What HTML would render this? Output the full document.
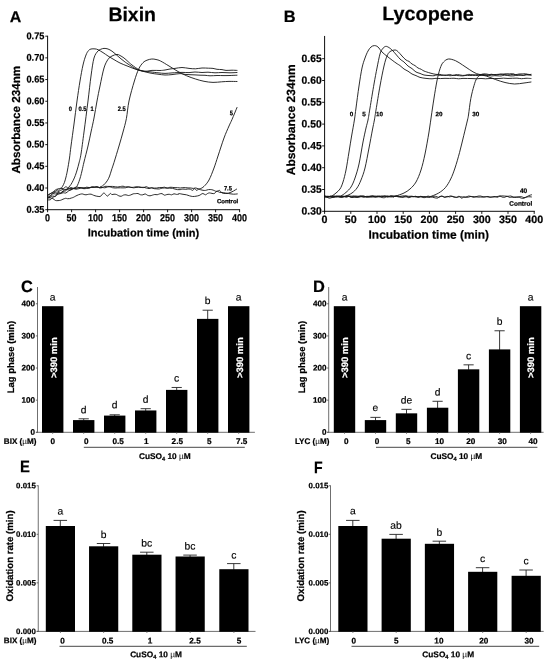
<!DOCTYPE html>
<html lang="en"><head><meta charset="utf-8"><title>Bixin and Lycopene: LDL oxidation kinetics</title>
<style>html,body{margin:0;padding:0;background:#fff}body{width:550px;height:662px;overflow:hidden}svg{display:block}text{font-family:'Liberation Sans', Arial, Helvetica, sans-serif}.h{stroke:#000;stroke-width:.22px}.l{stroke:#000;stroke-width:.14px}</style>
</head><body>
<svg width="550" height="662" viewBox="0 0 550 662" text-rendering="geometricPrecision">
<rect width="550" height="662" fill="#fff"/>
<g id="panel-a">
<line x1="47.6" y1="35.75" x2="47.6" y2="210.15" stroke="#000" stroke-width="0.95"/>
<line x1="47.15" y1="209.7" x2="240.05" y2="209.7" stroke="#000" stroke-width="0.95"/>
<line x1="45.3" y1="209.7" x2="47.6" y2="209.7" stroke="#000" stroke-width="0.9"/>
<text x="44.4" y="212.7" font-size="9.8" font-weight="bold" class="h" text-anchor="end" transform="rotate(0.06 44.4 212.7)" textLength="17.9" lengthAdjust="spacingAndGlyphs">0.35</text>
<line x1="45.3" y1="188.01" x2="47.6" y2="188.01" stroke="#000" stroke-width="0.9"/>
<text x="44.4" y="191.01" font-size="9.8" font-weight="bold" class="h" text-anchor="end" transform="rotate(0.06 44.4 191.01)" textLength="17.9" lengthAdjust="spacingAndGlyphs">0.40</text>
<line x1="45.3" y1="166.32" x2="47.6" y2="166.32" stroke="#000" stroke-width="0.9"/>
<text x="44.4" y="169.32" font-size="9.8" font-weight="bold" class="h" text-anchor="end" transform="rotate(0.06 44.4 169.32)" textLength="17.9" lengthAdjust="spacingAndGlyphs">0.45</text>
<line x1="45.3" y1="144.63" x2="47.6" y2="144.63" stroke="#000" stroke-width="0.9"/>
<text x="44.4" y="147.63" font-size="9.8" font-weight="bold" class="h" text-anchor="end" transform="rotate(0.06 44.4 147.63)" textLength="17.9" lengthAdjust="spacingAndGlyphs">0.50</text>
<line x1="45.3" y1="122.94" x2="47.6" y2="122.94" stroke="#000" stroke-width="0.9"/>
<text x="44.4" y="125.94" font-size="9.8" font-weight="bold" class="h" text-anchor="end" transform="rotate(0.06 44.4 125.94)" textLength="17.9" lengthAdjust="spacingAndGlyphs">0.55</text>
<line x1="45.3" y1="101.25" x2="47.6" y2="101.25" stroke="#000" stroke-width="0.9"/>
<text x="44.4" y="104.25" font-size="9.8" font-weight="bold" class="h" text-anchor="end" transform="rotate(0.06 44.4 104.25)" textLength="17.9" lengthAdjust="spacingAndGlyphs">0.60</text>
<line x1="45.3" y1="79.56" x2="47.6" y2="79.56" stroke="#000" stroke-width="0.9"/>
<text x="44.4" y="82.56" font-size="9.8" font-weight="bold" class="h" text-anchor="end" transform="rotate(0.06 44.4 82.56)" textLength="17.9" lengthAdjust="spacingAndGlyphs">0.65</text>
<line x1="45.3" y1="57.87" x2="47.6" y2="57.87" stroke="#000" stroke-width="0.9"/>
<text x="44.4" y="60.87" font-size="9.8" font-weight="bold" class="h" text-anchor="end" transform="rotate(0.06 44.4 60.87)" textLength="17.9" lengthAdjust="spacingAndGlyphs">0.70</text>
<line x1="45.3" y1="36.18" x2="47.6" y2="36.18" stroke="#000" stroke-width="0.9"/>
<text x="44.4" y="39.18" font-size="9.8" font-weight="bold" class="h" text-anchor="end" transform="rotate(0.06 44.4 39.18)" textLength="17.9" lengthAdjust="spacingAndGlyphs">0.75</text>
<line x1="47.6" y1="209.7" x2="47.6" y2="212.2" stroke="#000" stroke-width="0.9"/>
<text x="47.6" y="221.3" font-size="10.3" font-weight="bold" class="h" text-anchor="middle" transform="rotate(0.06 47.6 221.3)" textLength="5" lengthAdjust="spacingAndGlyphs">0</text>
<line x1="71.6" y1="209.7" x2="71.6" y2="212.2" stroke="#000" stroke-width="0.9"/>
<text x="71.6" y="221.3" font-size="10.3" font-weight="bold" class="h" text-anchor="middle" transform="rotate(0.06 71.6 221.3)" textLength="10" lengthAdjust="spacingAndGlyphs">50</text>
<line x1="95.6" y1="209.7" x2="95.6" y2="212.2" stroke="#000" stroke-width="0.9"/>
<text x="95.6" y="221.3" font-size="10.3" font-weight="bold" class="h" text-anchor="middle" transform="rotate(0.06 95.6 221.3)" textLength="15" lengthAdjust="spacingAndGlyphs">100</text>
<line x1="119.6" y1="209.7" x2="119.6" y2="212.2" stroke="#000" stroke-width="0.9"/>
<text x="119.6" y="221.3" font-size="10.3" font-weight="bold" class="h" text-anchor="middle" transform="rotate(0.06 119.6 221.3)" textLength="15" lengthAdjust="spacingAndGlyphs">150</text>
<line x1="143.6" y1="209.7" x2="143.6" y2="212.2" stroke="#000" stroke-width="0.9"/>
<text x="143.6" y="221.3" font-size="10.3" font-weight="bold" class="h" text-anchor="middle" transform="rotate(0.06 143.6 221.3)" textLength="15" lengthAdjust="spacingAndGlyphs">200</text>
<line x1="167.6" y1="209.7" x2="167.6" y2="212.2" stroke="#000" stroke-width="0.9"/>
<text x="167.6" y="221.3" font-size="10.3" font-weight="bold" class="h" text-anchor="middle" transform="rotate(0.06 167.6 221.3)" textLength="15" lengthAdjust="spacingAndGlyphs">250</text>
<line x1="191.6" y1="209.7" x2="191.6" y2="212.2" stroke="#000" stroke-width="0.9"/>
<text x="191.6" y="221.3" font-size="10.3" font-weight="bold" class="h" text-anchor="middle" transform="rotate(0.06 191.6 221.3)" textLength="15" lengthAdjust="spacingAndGlyphs">300</text>
<line x1="215.6" y1="209.7" x2="215.6" y2="212.2" stroke="#000" stroke-width="0.9"/>
<text x="215.6" y="221.3" font-size="10.3" font-weight="bold" class="h" text-anchor="middle" transform="rotate(0.06 215.6 221.3)" textLength="15" lengthAdjust="spacingAndGlyphs">350</text>
<line x1="239.6" y1="209.7" x2="239.6" y2="212.2" stroke="#000" stroke-width="0.9"/>
<text x="239.6" y="221.3" font-size="10.3" font-weight="bold" class="h" text-anchor="middle" transform="rotate(0.06 239.6 221.3)" textLength="15" lengthAdjust="spacingAndGlyphs">400</text>
<text x="143.4" y="236.6" font-size="11.2" font-weight="bold" class="h" text-anchor="middle" transform="rotate(0.06 143.4 236.6)" textLength="111.5" lengthAdjust="spacingAndGlyphs">Incubation time (min)</text>
<text x="20.4" y="119.7" font-size="11.6" font-weight="bold" class="h" text-anchor="middle" transform="rotate(-90 20.4 119.7)" textLength="107.8" lengthAdjust="spacingAndGlyphs">Absorbance 234nm</text>
<text x="132.2" y="21.3" font-size="19.9" font-weight="bold" class="h" text-anchor="middle" transform="rotate(0.06 132.2 21.3)" textLength="47.6" lengthAdjust="spacingAndGlyphs">Bixin</text>
<text x="15.6" y="22.3" font-size="16" font-weight="bold" class="h" text-anchor="middle" transform="rotate(0.06 15.6 22.3)">A</text>
<path d="M47.6 195.42C48.03 195.13 49.33 194.19 50.2 193.66C51.07 193.12 51.93 192.58 52.8 192.19C53.67 191.8 54.53 191.74 55.4 191.32C56.27 190.91 57.48 189.85 58 189.69C58.52 189.53 58.08 190.48 58.5 190.37C58.92 190.25 59.83 189.66 60.5 189C61.17 188.34 61.85 187.48 62.5 186.4C63.15 185.32 63.82 184.07 64.4 182.5C64.98 180.93 65.48 179.08 66 177C66.52 174.92 66.92 173.17 67.5 170C68.08 166.83 68.92 162 69.5 158C70.08 154 70.25 151.67 71 146C71.75 140.33 73 131.5 74 124C75 116.5 76 108.17 77 101C78 93.83 79 87 80 81C81 75 82 69.33 83 65C84 60.67 85.08 57.4 86 55C86.92 52.6 87.67 51.6 88.5 50.6C89.33 49.6 89.92 49.28 91 49C92.08 48.72 93.83 48.78 95 48.9C96.17 49.02 96.67 49.08 98 49.7C99.33 50.32 101.33 51.55 103 52.6C104.67 53.65 106.17 54.83 108 56C109.83 57.17 112 58.43 114 59.6C116 60.77 117.67 61.88 120 63C122.33 64.12 125 65.13 128 66.3C131 67.47 134.33 69.08 138 70C141.67 70.92 146.67 71.33 150 71.8C153.33 72.27 155.5 72.53 158 72.8C160.5 73.07 162.67 73.38 165 73.4C167.33 73.42 169.17 73.07 172 72.9C174.83 72.73 179.17 72.45 182 72.4C184.83 72.35 186.83 72.67 189 72.6C191.17 72.53 192.83 72.02 195 72C197.17 71.98 199.83 72.47 202 72.5C204.17 72.53 205.83 72.15 208 72.2C210.17 72.25 212.67 72.75 215 72.8C217.33 72.85 219.5 72.5 222 72.5C224.5 72.5 227.5 72.8 230 72.8C232.5 72.8 235.83 72.55 237 72.5" fill="none" stroke="#151515" stroke-width="0.9" stroke-linejoin="round" stroke-linecap="round"/>
<path d="M47.6 198.38C48.03 198.2 49.33 197.68 50.2 197.28C51.07 196.88 51.93 196.12 52.8 195.99C53.67 195.86 54.53 197.07 55.4 196.48C56.27 195.88 57.13 192.96 58 192.43C58.87 191.91 59.73 193.46 60.6 193.31C61.47 193.15 62.33 191.94 63.2 191.53C64.07 191.11 65.25 191.07 65.8 190.81C66.35 190.56 66 190.61 66.5 190.01C67 189.41 68.05 188.13 68.8 187.2C69.55 186.27 70.25 185.57 71 184.4C71.75 183.23 72.58 181.68 73.3 180.2C74.02 178.72 74.67 177.2 75.3 175.5C75.93 173.8 76.48 172.08 77.1 170C77.72 167.92 78.35 165.67 79 163C79.65 160.33 80.17 159.17 81 154C81.83 148.83 82.83 140.83 84 132C85.17 123.17 86.83 110.33 88 101C89.17 91.67 90 83.17 91 76C92 68.83 92.83 62.17 94 58C95.17 53.83 96.83 52.47 98 51C99.17 49.53 100 49.63 101 49.2C102 48.77 102.83 48.43 104 48.4C105.17 48.37 106.67 48.53 108 49C109.33 49.47 110.67 50.28 112 51.2C113.33 52.12 114.67 53.37 116 54.5C117.33 55.63 118.67 56.88 120 58C121.33 59.12 122.67 60.2 124 61.2C125.33 62.2 126 62.7 128 64C130 65.3 133.33 67.77 136 69C138.67 70.23 141.33 71.17 144 71.4C146.67 71.63 149.33 70.55 152 70.4C154.67 70.25 157.83 70.57 160 70.5C162.17 70.43 163.33 70.25 165 70C166.67 69.75 168.33 69.27 170 69C171.67 68.73 173 68.65 175 68.4C177 68.15 179.67 67.5 182 67.5C184.33 67.5 186.75 68.18 189 68.4C191.25 68.62 193.33 68.87 195.5 68.8C197.67 68.73 199.83 68.1 202 68C204.17 67.9 206.67 68.13 208.5 68.2C210.33 68.27 211.58 68.22 213 68.4C214.42 68.58 215.5 69.1 217 69.3C218.5 69.5 220.5 69.42 222 69.6C223.5 69.78 224.33 70.3 226 70.4C227.67 70.5 230.17 70.2 232 70.2C233.83 70.2 236.17 70.37 237 70.4" fill="none" stroke="#151515" stroke-width="0.9" stroke-linejoin="round" stroke-linecap="round"/>
<path d="M47.6 196.27C48.03 196.22 49.33 196.46 50.2 195.98C51.07 195.49 51.93 193.97 52.8 193.37C53.67 192.76 54.53 192.57 55.4 192.33C56.27 192.08 57.13 192.23 58 191.91C58.87 191.58 59.73 190.81 60.6 190.4C61.47 189.98 62.33 189.57 63.2 189.4C64.07 189.24 64.93 189.53 65.8 189.41C66.67 189.3 67.53 189.02 68.4 188.71C69.27 188.4 70.15 187.6 71 187.56C71.85 187.51 72.7 188.4 73.5 188.44C74.3 188.48 75.13 188.34 75.8 187.8C76.47 187.26 76.97 186.25 77.5 185.2C78.03 184.15 78.48 182.95 79 181.5C79.52 180.05 80.07 178.42 80.6 176.5C81.13 174.58 81.63 172.42 82.2 170C82.77 167.58 83.03 166 84 162C84.97 158 86.83 151 88 146C89.17 141 90 136.67 91 132C92 127.33 93 123.17 94 118C95 112.83 96 106.33 97 101C98 95.67 98.83 91.5 100 86C101.17 80.5 102.67 72.43 104 68C105.33 63.57 106.67 61.4 108 59.4C109.33 57.4 110.5 56.83 112 56C113.5 55.17 115.67 54.48 117 54.4C118.33 54.32 118.83 54.9 120 55.5C121.17 56.1 122.67 57 124 58C125.33 59 126.67 60.33 128 61.5C129.33 62.67 130 63.55 132 65C134 66.45 137 68.87 140 70.2C143 71.53 147 72.33 150 73C153 73.67 155.5 73.87 158 74.2C160.5 74.53 162.67 74.93 165 75C167.33 75.07 169.5 74.83 172 74.6C174.5 74.37 177.83 73.63 180 73.6C182.17 73.57 183.33 74.22 185 74.4C186.67 74.58 188.33 74.62 190 74.7C191.67 74.78 193.33 74.82 195 74.9C196.67 74.98 198.33 75.13 200 75.2C201.67 75.27 203.33 75.2 205 75.3C206.67 75.4 208 75.77 210 75.8C212 75.83 214.67 75.53 217 75.5C219.33 75.47 221.83 75.6 224 75.6C226.17 75.6 227.83 75.57 230 75.5C232.17 75.43 235.83 75.25 237 75.2" fill="none" stroke="#151515" stroke-width="0.9" stroke-linejoin="round" stroke-linecap="round"/>
<path d="M47.6 199.73C48.03 199.75 49.33 200.23 50.2 199.83C51.07 199.43 51.93 197.97 52.8 197.33C53.67 196.68 54.53 196.45 55.4 195.94C56.27 195.43 57.13 194.67 58 194.27C58.87 193.87 59.73 193.82 60.6 193.57C61.47 193.31 62.33 192.83 63.2 192.74C64.07 192.66 64.93 193.32 65.8 193.04C66.67 192.76 67.53 191.64 68.4 191.07C69.27 190.49 70.13 189.98 71 189.59C71.87 189.19 72.73 188.77 73.6 188.7C74.47 188.62 75.33 189.13 76.2 189.13C77.07 189.12 77.93 188.88 78.8 188.67C79.67 188.46 80.53 187.98 81.4 187.86C82.27 187.75 83.13 188.09 84 187.98C84.87 187.87 85.73 187.27 86.6 187.2C87.47 187.13 88.33 187.54 89.2 187.56C90.07 187.58 90.93 187.4 91.8 187.34C92.67 187.28 93.53 187.27 94.4 187.22C95.27 187.17 96.13 186.98 97 187.02C97.87 187.05 99.1 187.43 99.6 187.44C100.1 187.44 99.52 187.28 100 187.02C100.48 186.77 101.67 186.47 102.5 185.9C103.33 185.33 104.15 184.55 105 183.6C105.85 182.65 106.83 181.47 107.6 180.2C108.37 178.93 108.95 177.7 109.6 176C110.25 174.3 110.77 172.25 111.5 170C112.23 167.75 112.75 166.5 114 162.5C115.25 158.5 117.5 151.08 119 146C120.5 140.92 121.77 136.58 123 132C124.23 127.42 125.4 123.67 126.4 118.5C127.4 113.33 127.67 107.25 129 101C130.33 94.75 132.78 86.33 134.4 81C136.02 75.67 137.27 72.05 138.7 69C140.13 65.95 141.62 64.17 143 62.7C144.38 61.23 145.53 60.82 147 60.2C148.47 59.58 150.3 59.12 151.8 59C153.3 58.88 154.55 59.17 156 59.5C157.45 59.83 158.33 59.92 160.5 61C162.67 62.08 166.08 64.25 169 66C171.92 67.75 175.05 69.87 178 71.5C180.95 73.13 183.78 74.55 186.7 75.8C189.62 77.05 192.62 78.08 195.5 79C198.38 79.92 201.08 80.73 204 81.3C206.92 81.87 210.07 82.32 213 82.4C215.93 82.48 218.93 81.97 221.6 81.8C224.27 81.63 226.43 81.45 229 81.4C231.57 81.35 235.67 81.48 237 81.5" fill="none" stroke="#151515" stroke-width="0.9" stroke-linejoin="round" stroke-linecap="round"/>
<path d="M47.6 195.25C48.03 195.01 49.33 194.25 50.2 193.81C51.07 193.37 51.93 193.26 52.8 192.6C53.67 191.94 54.53 190.47 55.4 189.87C56.27 189.26 57.13 189.24 58 188.97C58.87 188.71 59.73 188.34 60.6 188.28C61.47 188.22 62.33 188.85 63.2 188.61C64.07 188.36 64.93 186.86 65.8 186.8C66.67 186.74 67.53 187.95 68.4 188.26C69.27 188.57 70.13 188.66 71 188.64C71.87 188.63 72.73 188.44 73.6 188.17C74.47 187.91 75.33 187.14 76.2 187.04C77.07 186.93 77.93 187.45 78.8 187.56C79.67 187.67 80.53 187.59 81.4 187.68C82.27 187.77 83.13 188.07 84 188.1C84.87 188.14 85.73 187.95 86.6 187.91C87.47 187.87 88.33 188.04 89.2 187.87C90.07 187.7 90.93 187.04 91.8 186.89C92.67 186.75 93.53 187 94.4 187C95.27 186.99 96.13 186.76 97 186.86C97.87 186.96 98.73 187.47 99.6 187.6C100.47 187.74 101.33 187.87 102.2 187.67C103.07 187.48 103.93 186.63 104.8 186.42C105.67 186.21 106.53 186.41 107.4 186.42C108.27 186.43 109.13 186.46 110 186.46C110.87 186.46 111.73 186.37 112.6 186.42C113.47 186.48 114.33 186.7 115.2 186.8C116.07 186.89 116.93 187.04 117.8 187C118.67 186.96 119.53 186.68 120.4 186.55C121.27 186.42 122.13 186.15 123 186.21C123.87 186.26 124.73 186.77 125.6 186.87C126.47 186.98 127.33 186.79 128.2 186.84C129.07 186.89 129.93 187.02 130.8 187.18C131.67 187.34 132.53 187.76 133.4 187.8C134.27 187.85 135.13 187.55 136 187.45C136.87 187.36 137.73 187.24 138.6 187.23C139.47 187.23 140.33 187.38 141.2 187.43C142.07 187.48 142.93 187.69 143.8 187.56C144.67 187.43 145.53 186.6 146.4 186.67C147.27 186.74 148.13 187.78 149 187.98C149.87 188.18 150.73 187.85 151.6 187.86C152.47 187.88 153.33 188.05 154.2 188.08C155.07 188.11 155.93 188.13 156.8 188.04C157.67 187.94 158.53 187.58 159.4 187.5C160.27 187.43 161.13 187.63 162 187.58C162.87 187.54 163.73 187.13 164.6 187.21C165.47 187.3 166.33 188.07 167.2 188.08C168.07 188.1 168.93 187.42 169.8 187.3C170.67 187.18 171.53 187.32 172.4 187.38C173.27 187.44 174.13 187.62 175 187.66C175.87 187.71 176.73 187.61 177.6 187.67C178.47 187.72 179.33 188.01 180.2 188.01C181.07 188 181.93 187.71 182.8 187.65C183.67 187.59 184.53 187.59 185.4 187.64C186.27 187.69 187.13 187.89 188 187.94C188.87 187.99 189.73 187.86 190.6 187.94C191.47 188.02 192.33 188.4 193.2 188.41C194.07 188.41 195 187.91 195.8 187.97C196.6 188.03 197.3 188.61 198 188.74C198.7 188.88 199 189.19 200 188.8C201 188.41 202.5 187.87 204 186.4C205.5 184.93 207.33 183.07 209 180C210.67 176.93 212.5 172 214 168C215.5 164 216.33 161 218 156C219.67 151 222.17 143 224 138C225.83 133 227.67 129.08 229 126C230.33 122.92 230.67 122.58 232 119.5C233.33 116.42 236.17 109.5 237 107.5" fill="none" stroke="#151515" stroke-width="0.9" stroke-linejoin="round" stroke-linecap="round"/>
<path d="M47.6 197.77C48.03 197.55 49.33 197.11 50.2 196.44C51.07 195.76 51.93 194.15 52.8 193.74C53.67 193.34 54.53 194.08 55.4 194.01C56.27 193.93 57.13 193.44 58 193.27C58.87 193.1 59.73 193.36 60.6 192.97C61.47 192.57 62.33 191.48 63.2 190.91C64.07 190.34 64.93 189.73 65.8 189.55C66.67 189.37 67.53 189.77 68.4 189.83C69.27 189.9 70.13 190.18 71 189.95C71.87 189.72 72.73 188.65 73.6 188.45C74.47 188.26 75.33 188.91 76.2 188.78C77.07 188.64 77.93 187.75 78.8 187.64C79.67 187.54 80.53 187.96 81.4 188.14C82.27 188.31 83.13 188.65 84 188.7C84.87 188.74 85.73 188.52 86.6 188.41C87.47 188.3 88.33 188.23 89.2 188.04C90.07 187.85 90.93 187.36 91.8 187.24C92.67 187.12 93.53 187.36 94.4 187.31C95.27 187.26 96.13 186.84 97 186.94C97.87 187.03 98.73 187.78 99.6 187.86C100.47 187.95 101.33 187.45 102.2 187.44C103.07 187.43 103.93 187.86 104.8 187.79C105.67 187.72 106.53 187.19 107.4 187.03C108.27 186.87 109.13 186.71 110 186.82C110.87 186.93 111.73 187.52 112.6 187.72C113.47 187.92 114.33 187.98 115.2 188C116.07 188.01 116.93 187.86 117.8 187.83C118.67 187.79 119.53 187.79 120.4 187.8C121.27 187.8 122.13 187.86 123 187.86C123.87 187.86 124.73 187.92 125.6 187.78C126.47 187.63 127.33 187.04 128.2 187C129.07 186.95 129.93 187.46 130.8 187.51C131.67 187.56 132.53 187.41 133.4 187.29C134.27 187.18 135.13 186.89 136 186.81C136.87 186.74 137.73 186.77 138.6 186.85C139.47 186.94 140.33 187.22 141.2 187.3C142.07 187.38 142.93 187.19 143.8 187.31C144.67 187.44 145.53 187.85 146.4 188.05C147.27 188.25 148.13 188.56 149 188.51C149.87 188.47 150.73 187.76 151.6 187.78C152.47 187.81 153.33 188.5 154.2 188.68C155.07 188.86 155.93 188.83 156.8 188.88C157.67 188.92 158.53 189.06 159.4 188.94C160.27 188.81 161.13 188.26 162 188.1C162.87 187.95 163.73 187.98 164.6 187.99C165.47 187.99 166.33 188.08 167.2 188.11C168.07 188.14 168.93 188.14 169.8 188.17C170.67 188.2 171.53 188.15 172.4 188.3C173.27 188.45 174.13 188.86 175 189.08C175.87 189.3 176.73 189.54 177.6 189.64C178.47 189.73 179.33 189.74 180.2 189.64C181.07 189.55 181.93 189.12 182.8 189.07C183.67 189.02 184.62 189.34 185.4 189.34C186.18 189.35 186.7 189.14 187.5 189.1C188.3 189.06 189.33 188.88 190.2 189.1C191.07 189.32 191.97 190.5 192.7 190.4C193.43 190.3 193.97 188.5 194.6 188.5C195.23 188.5 195.87 190.27 196.5 190.4C197.13 190.53 197.75 189.42 198.4 189.3C199.05 189.18 199.63 189.53 200.4 189.7C201.17 189.87 202.15 190.18 203 190.3C203.85 190.42 204.58 190.52 205.5 190.4C206.42 190.28 207.45 189.72 208.5 189.6C209.55 189.48 210.82 189.53 211.8 189.7C212.78 189.87 213.55 190.28 214.4 190.6C215.25 190.92 216.05 191.63 216.9 191.6C217.75 191.57 218.65 190.18 219.5 190.4C220.35 190.62 220.95 192.38 222 192.9C223.05 193.42 224.73 193.47 225.8 193.5C226.87 193.53 227.55 193.3 228.4 193.1C229.25 192.9 230.05 192.65 230.9 192.3C231.75 191.95 232.55 191.53 233.5 191C234.45 190.47 236.08 189.42 236.6 189.1" fill="none" stroke="#151515" stroke-width="0.9" stroke-linejoin="round" stroke-linecap="round"/>
<path d="M47.6 197.4C48.03 197.48 49.32 197.7 50.2 197.9C51.08 198.1 52.02 198.17 52.9 198.6C53.78 199.03 54.65 200.17 55.5 200.5C56.35 200.83 57.17 200.63 58 200.6C58.83 200.57 59.67 200.53 60.5 200.3C61.33 200.07 62.15 199.53 63 199.2C63.85 198.87 64.85 198.38 65.6 198.3C66.35 198.22 66.85 198.65 67.5 198.7C68.15 198.75 68.85 198.72 69.5 198.6C70.15 198.48 70.77 198.2 71.4 198C72.03 197.8 72.57 197.73 73.3 197.4C74.03 197.07 74.95 196.43 75.8 196C76.65 195.57 77.65 195.1 78.4 194.8C79.15 194.5 79.67 194.35 80.3 194.2C80.93 194.05 81.57 193.85 82.2 193.9C82.83 193.95 83.47 194.35 84.1 194.5C84.73 194.65 85.27 194.83 86 194.8C86.73 194.77 87.65 194.4 88.5 194.3C89.35 194.2 90.25 194.03 91.1 194.2C91.95 194.37 92.75 194.98 93.6 195.3C94.45 195.62 95.45 195.92 96.2 196.1C96.95 196.28 97.47 196.33 98.1 196.4C98.73 196.47 99.37 196.73 100 196.5C100.63 196.27 101.27 195.6 101.9 195C102.53 194.4 103.17 192.97 103.8 192.9C104.43 192.83 105.07 194.07 105.7 194.6C106.33 195.13 106.85 196.28 107.6 196.1C108.35 195.92 109.47 193.75 110.2 193.5C110.93 193.25 111.37 194.48 112 194.6C112.63 194.72 113.27 194.22 114 194.2C114.73 194.18 115.6 194.2 116.4 194.48C117.2 194.75 118 195.53 118.8 195.83C119.6 196.13 120.4 196.41 121.2 196.28C122 196.15 122.8 195.3 123.6 195.06C124.4 194.82 125.2 194.76 126 194.83C126.8 194.91 127.6 195.5 128.4 195.52C129.2 195.54 130 195.21 130.8 194.93C131.6 194.66 132.4 194.06 133.2 193.85C134 193.63 134.8 193.68 135.6 193.63C136.4 193.58 137.2 193.34 138 193.53C138.8 193.71 139.6 194.52 140.4 194.73C141.2 194.94 142 194.94 142.8 194.8C143.6 194.67 144.4 193.83 145.2 193.92C146 194 146.8 195 147.6 195.32C148.4 195.63 149.2 195.84 150 195.82C150.8 195.79 151.6 195.37 152.4 195.15C153.2 194.93 154 194.58 154.8 194.51C155.6 194.43 156.4 194.82 157.2 194.72C158 194.62 158.8 194.08 159.6 193.89C160.4 193.71 161.2 193.4 162 193.61C162.8 193.83 163.6 195.01 164.4 195.17C165.2 195.32 166 194.7 166.8 194.55C167.6 194.4 168.4 194.22 169.2 194.27C170 194.31 170.8 194.9 171.6 194.83C172.4 194.75 173.2 193.88 174 193.81C174.8 193.73 175.6 194.33 176.4 194.38C177.2 194.44 178.37 194.27 178.8 194.14C179.23 194 178.3 193.54 179 193.57C179.7 193.6 181.77 194.09 183 194.3C184.23 194.51 185.32 194.55 186.4 194.8C187.48 195.05 188.45 195.52 189.5 195.8C190.55 196.08 191.62 196.43 192.7 196.5C193.78 196.57 194.93 196.37 196 196.2C197.07 196.03 198.27 195.8 199.1 195.5C199.93 195.2 200.37 194.73 201 194.4C201.63 194.07 202.15 193.43 202.9 193.5C203.65 193.57 204.75 194.78 205.5 194.8C206.25 194.82 206.77 193.92 207.4 193.6C208.03 193.28 208.53 192.93 209.3 192.9C210.07 192.87 211.15 193.3 212 193.4C212.85 193.5 213.58 193.9 214.4 193.5C215.22 193.1 216.05 191.2 216.9 191C217.75 190.8 218.43 192.02 219.5 192.3C220.57 192.58 221.82 192.5 223.3 192.7C224.78 192.9 226.7 193.25 228.4 193.5C230.1 193.75 232.02 194.13 233.5 194.2C234.98 194.27 236.67 193.95 237.3 193.9" fill="none" stroke="#151515" stroke-width="0.9" stroke-linejoin="round" stroke-linecap="round"/>
<text x="70.4" y="110.9" font-size="6.4" font-weight="bold" class="h" text-anchor="middle" transform="rotate(0.06 70.4 110.9)" textLength="3.2" lengthAdjust="spacingAndGlyphs">0</text>
<text x="82.4" y="110.9" font-size="6.4" font-weight="bold" class="h" text-anchor="middle" transform="rotate(0.06 82.4 110.9)" textLength="8" lengthAdjust="spacingAndGlyphs">0.5</text>
<text x="92" y="110.9" font-size="6.4" font-weight="bold" class="h" text-anchor="middle" transform="rotate(0.06 92 110.9)" textLength="3.2" lengthAdjust="spacingAndGlyphs">1</text>
<text x="121.7" y="110.9" font-size="6.4" font-weight="bold" class="h" text-anchor="middle" transform="rotate(0.06 121.7 110.9)" textLength="8" lengthAdjust="spacingAndGlyphs">2.5</text>
<text x="231.3" y="115.2" font-size="6.4" font-weight="bold" class="h" text-anchor="middle" transform="rotate(0.06 231.3 115.2)" textLength="3.2" lengthAdjust="spacingAndGlyphs">5</text>
<text x="227.9" y="190.5" font-size="6.4" font-weight="bold" class="h" text-anchor="middle" transform="rotate(0.06 227.9 190.5)" textLength="8" lengthAdjust="spacingAndGlyphs">7.5</text>
<text x="227.6" y="203.3" font-size="6" font-weight="bold" class="h" text-anchor="middle" transform="rotate(0.06 227.6 203.3)" textLength="21.4" lengthAdjust="spacingAndGlyphs">Control</text>
</g>
<g id="panel-b">
<line x1="324.6" y1="35.95" x2="324.6" y2="211.75" stroke="#000" stroke-width="0.95"/>
<line x1="324.15" y1="211.3" x2="534.85" y2="211.3" stroke="#000" stroke-width="0.95"/>
<line x1="322.1" y1="211.3" x2="324.6" y2="211.3" stroke="#000" stroke-width="0.9"/>
<text x="321.6" y="214.6" font-size="10.5" font-weight="bold" class="h" text-anchor="end" transform="rotate(0.06 321.6 214.6)" textLength="20" lengthAdjust="spacingAndGlyphs">0.30</text>
<line x1="322.1" y1="189.5" x2="324.6" y2="189.5" stroke="#000" stroke-width="0.9"/>
<text x="321.6" y="192.8" font-size="10.5" font-weight="bold" class="h" text-anchor="end" transform="rotate(0.06 321.6 192.8)" textLength="20" lengthAdjust="spacingAndGlyphs">0.35</text>
<line x1="322.1" y1="167.7" x2="324.6" y2="167.7" stroke="#000" stroke-width="0.9"/>
<text x="321.6" y="171" font-size="10.5" font-weight="bold" class="h" text-anchor="end" transform="rotate(0.06 321.6 171)" textLength="20" lengthAdjust="spacingAndGlyphs">0.40</text>
<line x1="322.1" y1="145.9" x2="324.6" y2="145.9" stroke="#000" stroke-width="0.9"/>
<text x="321.6" y="149.2" font-size="10.5" font-weight="bold" class="h" text-anchor="end" transform="rotate(0.06 321.6 149.2)" textLength="20" lengthAdjust="spacingAndGlyphs">0.45</text>
<line x1="322.1" y1="124.1" x2="324.6" y2="124.1" stroke="#000" stroke-width="0.9"/>
<text x="321.6" y="127.4" font-size="10.5" font-weight="bold" class="h" text-anchor="end" transform="rotate(0.06 321.6 127.4)" textLength="20" lengthAdjust="spacingAndGlyphs">0.50</text>
<line x1="322.1" y1="102.3" x2="324.6" y2="102.3" stroke="#000" stroke-width="0.9"/>
<text x="321.6" y="105.6" font-size="10.5" font-weight="bold" class="h" text-anchor="end" transform="rotate(0.06 321.6 105.6)" textLength="20" lengthAdjust="spacingAndGlyphs">0.55</text>
<line x1="322.1" y1="80.5" x2="324.6" y2="80.5" stroke="#000" stroke-width="0.9"/>
<text x="321.6" y="83.8" font-size="10.5" font-weight="bold" class="h" text-anchor="end" transform="rotate(0.06 321.6 83.8)" textLength="20" lengthAdjust="spacingAndGlyphs">0.60</text>
<line x1="322.1" y1="58.7" x2="324.6" y2="58.7" stroke="#000" stroke-width="0.9"/>
<text x="321.6" y="62" font-size="10.5" font-weight="bold" class="h" text-anchor="end" transform="rotate(0.06 321.6 62)" textLength="20" lengthAdjust="spacingAndGlyphs">0.65</text>
<line x1="324.6" y1="211.3" x2="324.6" y2="213.9" stroke="#000" stroke-width="0.9"/>
<text x="324.6" y="223.1" font-size="10.7" font-weight="bold" class="h" text-anchor="middle" transform="rotate(0.06 324.6 223.1)">0</text>
<line x1="350.8" y1="211.3" x2="350.8" y2="213.9" stroke="#000" stroke-width="0.9"/>
<text x="350.8" y="223.1" font-size="10.7" font-weight="bold" class="h" text-anchor="middle" transform="rotate(0.06 350.8 223.1)">50</text>
<line x1="377" y1="211.3" x2="377" y2="213.9" stroke="#000" stroke-width="0.9"/>
<text x="377" y="223.1" font-size="10.7" font-weight="bold" class="h" text-anchor="middle" transform="rotate(0.06 377 223.1)">100</text>
<line x1="403.2" y1="211.3" x2="403.2" y2="213.9" stroke="#000" stroke-width="0.9"/>
<text x="403.2" y="223.1" font-size="10.7" font-weight="bold" class="h" text-anchor="middle" transform="rotate(0.06 403.2 223.1)">150</text>
<line x1="429.4" y1="211.3" x2="429.4" y2="213.9" stroke="#000" stroke-width="0.9"/>
<text x="429.4" y="223.1" font-size="10.7" font-weight="bold" class="h" text-anchor="middle" transform="rotate(0.06 429.4 223.1)">200</text>
<line x1="455.6" y1="211.3" x2="455.6" y2="213.9" stroke="#000" stroke-width="0.9"/>
<text x="455.6" y="223.1" font-size="10.7" font-weight="bold" class="h" text-anchor="middle" transform="rotate(0.06 455.6 223.1)">250</text>
<line x1="481.8" y1="211.3" x2="481.8" y2="213.9" stroke="#000" stroke-width="0.9"/>
<text x="481.8" y="223.1" font-size="10.7" font-weight="bold" class="h" text-anchor="middle" transform="rotate(0.06 481.8 223.1)">300</text>
<line x1="508" y1="211.3" x2="508" y2="213.9" stroke="#000" stroke-width="0.9"/>
<text x="508" y="223.1" font-size="10.7" font-weight="bold" class="h" text-anchor="middle" transform="rotate(0.06 508 223.1)">350</text>
<line x1="534.2" y1="211.3" x2="534.2" y2="213.9" stroke="#000" stroke-width="0.9"/>
<text x="534.2" y="223.1" font-size="10.7" font-weight="bold" class="h" text-anchor="middle" transform="rotate(0.06 534.2 223.1)">400</text>
<text x="428.8" y="238.8" font-size="12.1" font-weight="bold" class="h" text-anchor="middle" transform="rotate(0.06 428.8 238.8)" textLength="120.5" lengthAdjust="spacingAndGlyphs">Incubation time (min)</text>
<text x="294.6" y="119.8" font-size="11.9" font-weight="bold" class="h" text-anchor="middle" transform="rotate(-90 294.6 119.8)" textLength="111" lengthAdjust="spacingAndGlyphs">Absorbance 234nm</text>
<text x="428" y="20.4" font-size="19.6" font-weight="bold" class="h" text-anchor="middle" transform="rotate(0.06 428 20.4)" textLength="91.5" lengthAdjust="spacingAndGlyphs">Lycopene</text>
<text x="289.6" y="22.1" font-size="16.4" font-weight="bold" class="h" text-anchor="middle" transform="rotate(0.06 289.6 22.1)">B</text>
<path d="M324.7 196.31C325.2 196.32 326.7 196.34 327.7 196.35C328.7 196.37 330.15 196.35 330.7 196.39C331.25 196.43 330.78 196.67 331 196.6C331.22 196.53 331.17 196.6 332 196C332.83 195.4 334.67 194.17 336 193C337.33 191.83 338.83 190.83 340 189C341.17 187.17 342 185.17 343 182C344 178.83 345 175 346 170C347 165 348.07 157.67 349 152C349.93 146.33 350.7 141.33 351.6 136C352.5 130.67 353.67 124.67 354.4 120C355.13 115.33 355.23 113.67 356 108C356.77 102.33 358 92.67 359 86C360 79.33 361 72.67 362 68C363 63.33 364 60.83 365 58C366 55.17 367 52.83 368 51C369 49.17 369.93 47.9 371 47C372.07 46.1 373.23 45.6 374.4 45.6C375.57 45.6 376.73 45.93 378 47C379.27 48.07 380.33 50.33 382 52C383.67 53.67 385.67 55.17 388 57C390.33 58.83 394 61.57 396 63C398 64.43 398.67 64.6 400 65.6C401.33 66.6 402.67 68.07 404 69C405.33 69.93 406.67 70.37 408 71.2C409.33 72.03 410.67 73.27 412 74C413.33 74.73 414.67 75.03 416 75.6C417.33 76.17 418.33 76.93 420 77.4C421.67 77.87 424 78.17 426 78.4C428 78.63 430.33 78.81 432 78.8C433.67 78.79 434.58 78.36 436 78.32C437.42 78.28 439 78.56 440.5 78.56C442 78.56 443.5 78.35 445 78.33C446.5 78.31 448 78.46 449.5 78.44C451 78.43 452.5 78.18 454 78.24C455.5 78.3 457 78.76 458.5 78.79C460 78.81 461.5 78.45 463 78.4C464.5 78.34 466 78.44 467.5 78.47C469 78.5 470.5 78.51 472 78.56C473.5 78.61 475 78.8 476.5 78.78C478 78.76 479.5 78.44 481 78.44C482.5 78.45 484 78.78 485.5 78.79C487 78.8 488.5 78.55 490 78.5C491.5 78.46 493 78.52 494.5 78.52C496 78.52 497.5 78.58 499 78.52C500.5 78.46 502 78.17 503.5 78.16C505 78.15 506.5 78.44 508 78.46C509.5 78.48 511 78.33 512.5 78.28C514 78.23 515.5 78.08 517 78.15C518.5 78.22 520 78.69 521.5 78.71C523 78.73 524.5 78.31 526 78.27C527.5 78.23 529.67 78.44 530.5 78.48C531.33 78.52 530.92 78.5 531 78.5" fill="none" stroke="#151515" stroke-width="0.9" stroke-linejoin="round" stroke-linecap="round"/>
<path d="M324.7 196.87C325.2 196.84 326.7 196.75 327.7 196.67C328.7 196.59 329.7 196.4 330.7 196.39C331.7 196.38 332.7 196.58 333.7 196.62C334.7 196.67 335.82 196.67 336.7 196.67C337.58 196.66 338.28 196.71 339 196.6C339.72 196.49 339.83 196.7 341 196C342.17 195.3 344.33 193.9 346 192.4C347.67 190.9 349.5 189.4 351 187C352.5 184.6 353.67 181.83 355 178C356.33 174.17 357.67 170 359 164C360.33 158 361.83 148 363 142C364.17 136 365.17 131.67 366 128C366.83 124.33 367.33 123.33 368 120C368.67 116.67 369 114 370 108C371 102 372.83 90.67 374 84C375.17 77.33 376 73 377 68C378 63 379.1 57.17 380 54C380.9 50.83 381.47 50.27 382.4 49C383.33 47.73 384.5 46.63 385.6 46.4C386.7 46.17 387.77 46.83 389 47.6C390.23 48.37 391.17 49.1 393 51C394.83 52.9 398.17 57.17 400 59C401.83 60.83 402.67 60.83 404 62C405.33 63.17 406.67 64.9 408 66C409.33 67.1 410.67 67.6 412 68.6C413.33 69.6 414.67 71.2 416 72C417.33 72.8 418.67 72.9 420 73.4C421.33 73.9 422.33 74.63 424 75C425.67 75.37 428.33 75.48 430 75.6C431.67 75.72 432.8 75.85 434 75.74C435.2 75.63 436.13 74.97 437.2 74.93C438.27 74.88 439.33 75.44 440.4 75.47C441.47 75.5 442.53 75.15 443.6 75.1C444.67 75.04 445.73 75.03 446.8 75.13C447.87 75.24 448.93 75.68 450 75.73C451.07 75.77 452.13 75.45 453.2 75.41C454.27 75.37 455.33 75.42 456.4 75.47C457.47 75.52 458.53 75.64 459.6 75.71C460.67 75.78 461.73 75.96 462.8 75.89C463.87 75.83 464.93 75.39 466 75.33C467.07 75.27 468.13 75.52 469.2 75.54C470.27 75.55 471.33 75.43 472.4 75.41C473.47 75.39 474.53 75.38 475.6 75.41C476.67 75.45 477.73 75.64 478.8 75.63C479.87 75.62 480.93 75.37 482 75.34C483.07 75.31 484.13 75.43 485.2 75.44C486.27 75.45 487.33 75.29 488.4 75.37C489.47 75.46 490.53 75.89 491.6 75.93C492.67 75.97 493.73 75.65 494.8 75.64C495.87 75.63 496.93 75.8 498 75.85C499.07 75.9 500.13 76.05 501.2 75.93C502.27 75.81 503.33 75.19 504.4 75.11C505.47 75.03 506.53 75.33 507.6 75.47C508.67 75.61 509.73 75.88 510.8 75.93C511.87 75.99 512.93 75.97 514 75.81C515.07 75.65 516.13 75.11 517.2 74.96C518.27 74.82 519.33 74.88 520.4 74.95C521.47 75.01 522.53 75.34 523.6 75.33C524.67 75.32 525.73 74.93 526.8 74.89C527.87 74.85 529.3 75 530 75.09C530.7 75.17 530.83 75.35 531 75.4" fill="none" stroke="#151515" stroke-width="0.9" stroke-linejoin="round" stroke-linecap="round"/>
<path d="M324.7 196.09C325.2 196.21 326.7 196.66 327.7 196.8C328.7 196.95 329.7 196.9 330.7 196.94C331.7 196.99 332.7 197.2 333.7 197.08C334.7 196.95 335.7 196.22 336.7 196.19C337.7 196.15 338.7 196.76 339.7 196.86C340.7 196.96 341.98 196.84 342.7 196.79C343.42 196.75 343.45 196.73 344 196.6C344.55 196.47 344.67 196.6 346 196C347.33 195.4 350.17 194.33 352 193C353.83 191.67 355.5 190.17 357 188C358.5 185.83 359.67 183.33 361 180C362.33 176.67 363.67 173.33 365 168C366.33 162.67 367.77 154.33 369 148C370.23 141.67 371.5 134.67 372.4 130C373.3 125.33 373.8 123.33 374.4 120C375 116.67 375.07 115.67 376 110C376.93 104.33 378.67 93.33 380 86C381.33 78.67 382.83 71 384 66C385.17 61 386 58.4 387 56C388 53.6 388.67 52.6 390 51.6C391.33 50.6 393.67 50 395 50C396.33 50 396.83 50.6 398 51.6C399.17 52.6 400.67 54.6 402 56C403.33 57.4 404.83 59.1 406 60C407.17 60.9 408 60.73 409 61.4C410 62.07 411 63.3 412 64C413 64.7 414 64.93 415 65.6C416 66.27 417 67.4 418 68C419 68.6 420 68.7 421 69.2C422 69.7 422.5 70.37 424 71C425.5 71.63 428 72.43 430 73C432 73.57 434.33 74.17 436 74.4C437.67 74.63 438.8 74.23 440 74.37C441.2 74.51 442.13 75.09 443.2 75.26C444.27 75.42 445.33 75.49 446.4 75.36C447.47 75.23 448.53 74.47 449.6 74.46C450.67 74.46 451.73 75.31 452.8 75.34C453.87 75.38 454.93 74.77 456 74.68C457.07 74.58 458.13 74.67 459.2 74.78C460.27 74.9 461.33 75.32 462.4 75.39C463.47 75.46 464.53 75.36 465.6 75.2C466.67 75.03 467.73 74.47 468.8 74.39C469.87 74.31 470.93 74.65 472 74.72C473.07 74.79 474.13 74.84 475.2 74.82C476.27 74.8 477.33 74.67 478.4 74.61C479.47 74.54 480.53 74.44 481.6 74.43C482.67 74.43 483.73 74.48 484.8 74.58C485.87 74.69 486.93 75.13 488 75.07C489.07 75.01 490.13 74.26 491.2 74.22C492.27 74.19 493.33 74.78 494.4 74.86C495.47 74.95 496.53 74.84 497.6 74.73C498.67 74.62 499.73 74.24 500.8 74.22C501.87 74.2 502.93 74.48 504 74.6C505.07 74.72 506.13 74.91 507.2 74.95C508.27 74.98 509.33 74.93 510.4 74.81C511.47 74.7 512.53 74.18 513.6 74.28C514.67 74.37 515.73 75.24 516.8 75.38C517.87 75.53 518.93 75.15 520 75.15C521.07 75.14 522.13 75.5 523.2 75.37C524.27 75.23 525.33 74.47 526.4 74.33C527.47 74.18 528.83 74.44 529.6 74.52C530.37 74.6 530.77 74.75 531 74.8" fill="none" stroke="#151515" stroke-width="0.9" stroke-linejoin="round" stroke-linecap="round"/>
<path d="M324.7 195.96C325.2 196.13 326.7 196.94 327.7 196.99C328.7 197.04 329.7 196.43 330.7 196.28C331.7 196.13 332.7 196.05 333.7 196.08C334.7 196.12 335.7 196.31 336.7 196.49C337.7 196.67 338.7 197.08 339.7 197.18C340.7 197.27 341.7 197.2 342.7 197.05C343.7 196.89 344.7 196.42 345.7 196.26C346.7 196.11 347.7 195.95 348.7 196.11C349.7 196.26 350.7 197.09 351.7 197.19C352.7 197.29 353.7 196.75 354.7 196.7C355.7 196.65 356.7 196.99 357.7 196.88C358.7 196.77 359.7 196.18 360.7 196.03C361.7 195.88 362.7 195.84 363.7 195.98C364.7 196.12 365.7 196.78 366.7 196.86C367.7 196.95 368.7 196.64 369.7 196.5C370.7 196.35 371.7 195.88 372.7 196C373.7 196.12 374.7 197.08 375.7 197.21C376.7 197.34 377.7 196.82 378.7 196.79C379.7 196.76 380.7 197.15 381.7 197.02C382.7 196.89 383.7 196 384.7 196.02C385.7 196.03 386.7 197.1 387.7 197.1C388.7 197.09 389.7 195.99 390.7 195.99C391.7 195.99 393.15 197.01 393.7 197.11C394.25 197.21 393.62 196.78 394 196.6C394.38 196.42 394.33 196.6 396 196C397.67 195.4 401.67 194.17 404 193C406.33 191.83 408 190.83 410 189C412 187.17 414.17 185.17 416 182C417.83 178.83 419.5 174.67 421 170C422.5 165.33 423.67 160.33 425 154C426.33 147.67 427.87 138.88 429 132C430.13 125.12 430.85 119.07 431.8 112.7C432.75 106.33 433.72 99.7 434.7 93.8C435.68 87.9 436.68 81.83 437.7 77.3C438.72 72.77 439.82 69.15 440.8 66.6C441.78 64.05 442.33 63.27 443.6 62C444.87 60.73 446.42 59.22 448.4 59C450.38 58.78 453.13 59.7 455.5 60.7C457.87 61.7 460.25 63.5 462.6 65C464.95 66.5 467.25 68.25 469.6 69.7C471.95 71.15 473.93 72.65 476.7 73.7C479.47 74.75 483.03 75.02 486.2 76C489.37 76.98 492.57 78.52 495.7 79.6C498.83 80.68 501.85 81.77 505 82.5C508.15 83.23 511.43 83.92 514.6 84C517.77 84.08 521.27 83.33 524 83C526.73 82.67 529.83 82.17 531 82" fill="none" stroke="#151515" stroke-width="0.9" stroke-linejoin="round" stroke-linecap="round"/>
<path d="M324.7 196.54C325.2 196.51 326.7 196.35 327.7 196.37C328.7 196.4 329.7 196.54 330.7 196.67C331.7 196.81 332.7 197.26 333.7 197.2C334.7 197.13 335.7 196.46 336.7 196.28C337.7 196.09 338.7 196.02 339.7 196.08C340.7 196.14 341.7 196.61 342.7 196.64C343.7 196.66 344.7 196.33 345.7 196.23C346.7 196.14 347.7 196.07 348.7 196.05C349.7 196.04 350.7 196.14 351.7 196.13C352.7 196.11 353.7 195.96 354.7 195.97C355.7 195.98 356.7 196.12 357.7 196.18C358.7 196.24 359.7 196.31 360.7 196.34C361.7 196.36 362.7 196.22 363.7 196.33C364.7 196.43 365.7 196.97 366.7 196.96C367.7 196.96 368.7 196.37 369.7 196.31C370.7 196.25 371.7 196.63 372.7 196.6C373.7 196.57 374.7 196.18 375.7 196.15C376.7 196.11 377.7 196.42 378.7 196.39C379.7 196.35 380.7 195.95 381.7 195.93C382.7 195.9 383.7 196.25 384.7 196.25C385.7 196.25 386.7 195.81 387.7 195.92C388.7 196.03 389.7 196.8 390.7 196.93C391.7 197.05 392.7 196.8 393.7 196.67C394.7 196.54 395.7 196.18 396.7 196.17C397.7 196.15 398.7 196.39 399.7 196.56C400.7 196.74 401.7 197.29 402.7 197.21C403.7 197.12 404.7 196.08 405.7 196.05C406.7 196.02 407.7 196.97 408.7 197.05C409.7 197.12 410.7 196.58 411.7 196.51C412.7 196.43 413.7 196.5 414.7 196.59C415.7 196.69 416.7 197.09 417.7 197.07C418.7 197.04 419.7 196.53 420.7 196.45C421.7 196.37 422.7 196.54 423.7 196.61C424.7 196.68 425.7 196.75 426.7 196.86C427.7 196.97 429.15 197.32 429.7 197.28C430.25 197.23 429.62 196.81 430 196.6C430.38 196.39 430.55 196.6 432 196C433.45 195.4 436.48 194.38 438.7 193C440.92 191.62 443.3 190.03 445.3 187.7C447.3 185.37 449.08 182.28 450.7 179C452.32 175.72 453.53 172.38 455 168C456.47 163.62 458.03 158.15 459.5 152.7C460.97 147.25 462.47 140.75 463.8 135.3C465.13 129.85 466.72 123.38 467.5 120C468.28 116.62 467.95 118.57 468.5 115C469.05 111.43 469.88 103.5 470.8 98.6C471.72 93.7 473.02 88.95 474 85.6C474.98 82.25 475.65 80.27 476.7 78.5C477.75 76.73 479.12 75.77 480.3 75C481.48 74.23 482.68 74.05 483.8 73.9C484.92 73.75 485.93 73.98 487 74.11C488.07 74.24 489.13 74.63 490.2 74.7C491.27 74.77 492.33 74.59 493.4 74.55C494.47 74.51 495.53 74.52 496.6 74.46C497.67 74.4 498.73 74.24 499.8 74.19C500.87 74.13 501.93 74.19 503 74.12C504.07 74.05 505.13 73.81 506.2 73.77C507.27 73.72 508.33 73.85 509.4 73.86C510.47 73.86 511.53 73.66 512.6 73.78C513.67 73.91 514.73 74.55 515.8 74.59C516.87 74.63 517.93 74.12 519 74.01C520.07 73.89 521.13 73.93 522.2 73.9C523.27 73.86 524.33 73.67 525.4 73.8C526.47 73.94 527.67 74.63 528.6 74.71C529.53 74.79 530.6 74.37 531 74.3" fill="none" stroke="#151515" stroke-width="0.9" stroke-linejoin="round" stroke-linecap="round"/>
<path d="M324.7 197.16C325.2 197.11 326.7 197 327.7 196.86C328.7 196.71 329.7 196.38 330.7 196.27C331.7 196.17 332.7 196.21 333.7 196.21C334.7 196.22 335.7 196.24 336.7 196.29C337.7 196.34 338.7 196.57 339.7 196.54C340.7 196.51 341.7 196.09 342.7 196.09C343.7 196.08 344.7 196.49 345.7 196.52C346.7 196.55 347.7 196.12 348.7 196.24C349.7 196.37 350.7 197.12 351.7 197.29C352.7 197.47 353.7 197.41 354.7 197.31C355.7 197.21 356.7 196.85 357.7 196.67C358.7 196.49 359.7 196.11 360.7 196.22C361.7 196.32 362.7 197.28 363.7 197.3C364.7 197.31 365.7 196.47 366.7 196.31C367.7 196.16 368.7 196.46 369.7 196.38C370.7 196.31 371.7 195.85 372.7 195.85C373.7 195.86 374.7 196.3 375.7 196.42C376.7 196.54 377.7 196.53 378.7 196.56C379.7 196.59 380.7 196.67 381.7 196.6C382.7 196.54 383.7 196.15 384.7 196.15C385.7 196.15 386.7 196.66 387.7 196.61C388.7 196.56 389.7 195.92 390.7 195.86C391.7 195.8 392.7 196.23 393.7 196.25C394.7 196.27 395.7 195.95 396.7 195.98C397.7 196.02 398.7 196.46 399.7 196.45C400.7 196.44 401.7 196.01 402.7 195.91C403.7 195.82 404.7 195.82 405.7 195.88C406.7 195.95 407.7 196.25 408.7 196.31C409.7 196.36 410.7 196.13 411.7 196.2C412.7 196.27 413.7 196.65 414.7 196.73C415.7 196.8 416.7 196.6 417.7 196.64C418.7 196.69 419.7 196.94 420.7 196.98C421.7 197.01 422.7 196.84 423.7 196.84C424.7 196.83 425.7 196.87 426.7 196.92C427.7 196.98 428.7 197.25 429.7 197.17C430.7 197.09 431.7 196.57 432.7 196.43C433.7 196.3 434.7 196.19 435.7 196.34C436.7 196.49 437.7 197.37 438.7 197.33C439.7 197.28 440.7 196.14 441.7 196.07C442.7 196.01 443.7 196.81 444.7 196.94C445.7 197.06 446.7 196.98 447.7 196.81C448.7 196.64 449.7 195.87 450.7 195.92C451.7 195.96 452.7 196.89 453.7 197.1C454.7 197.31 455.7 197.24 456.7 197.19C457.7 197.14 458.7 196.83 459.7 196.79C460.7 196.75 461.7 196.9 462.7 196.95C463.7 197 464.7 197.22 465.7 197.07C466.7 196.92 467.7 196.13 468.7 196.06C469.7 195.99 470.7 196.54 471.7 196.64C472.7 196.73 473.7 196.53 474.7 196.61C475.7 196.68 476.7 197.03 477.7 197.1C478.7 197.18 479.7 197.06 480.7 197.06C481.7 197.05 482.7 197.14 483.7 197.09C484.7 197.03 485.7 196.71 486.7 196.73C487.7 196.74 488.7 197.16 489.7 197.19C490.7 197.21 491.7 196.92 492.7 196.87C493.7 196.82 494.7 197 495.7 196.89C496.7 196.78 497.7 196.36 498.7 196.19C499.7 196.03 500.7 195.92 501.7 195.9C502.7 195.87 503.7 195.97 504.7 196.05C505.7 196.13 506.7 196.4 507.7 196.39C508.7 196.38 509.7 195.89 510.7 196.01C511.7 196.13 512.7 196.95 513.7 197.1C514.7 197.25 515.7 196.83 516.7 196.9C517.7 196.97 518.7 197.25 519.7 197.51C520.7 197.77 521.7 198.46 522.7 198.45C523.7 198.43 524.7 197.91 525.7 197.45C526.7 196.98 527.73 196.1 528.7 195.66C529.67 195.21 531.03 194.94 531.5 194.8" fill="none" stroke="#151515" stroke-width="0.9" stroke-linejoin="round" stroke-linecap="round"/>
<path d="M324.7 196.05C325.1 196.25 326.3 196.89 327.1 197.25C327.9 197.61 328.7 198.17 329.5 198.22C330.3 198.27 331.1 197.78 331.9 197.55C332.7 197.33 333.5 196.94 334.3 196.85C335.1 196.77 335.9 197.16 336.7 197.04C337.5 196.92 338.3 196.13 339.1 196.15C339.9 196.17 340.7 197.08 341.5 197.16C342.3 197.23 343.1 196.57 343.9 196.59C344.7 196.61 345.5 197.32 346.3 197.3C347.1 197.28 347.9 196.47 348.7 196.45C349.5 196.42 350.3 197.16 351.1 197.14C351.9 197.13 352.7 196.36 353.5 196.36C354.3 196.36 355.1 196.97 355.9 197.16C356.7 197.35 357.5 197.58 358.3 197.51C359.1 197.45 359.9 196.94 360.7 196.79C361.5 196.64 362.3 196.63 363.1 196.62C363.9 196.62 364.7 196.69 365.5 196.77C366.3 196.84 367.1 197 367.9 197.08C368.7 197.15 369.5 197.22 370.3 197.2C371.1 197.18 371.9 197.01 372.7 196.98C373.5 196.94 374.3 197.15 375.1 197.01C375.9 196.88 376.7 196.29 377.5 196.17C378.3 196.04 379.1 196.04 379.9 196.27C380.7 196.5 381.5 197.34 382.3 197.56C383.1 197.79 383.9 197.81 384.7 197.63C385.5 197.46 386.3 196.63 387.1 196.51C387.9 196.38 388.7 196.97 389.5 196.9C390.3 196.83 391.1 196.2 391.9 196.07C392.7 195.94 393.5 196.08 394.3 196.14C395.1 196.21 395.9 196.3 396.7 196.45C397.5 196.61 398.3 196.95 399.1 197.06C399.9 197.16 400.7 197.09 401.5 197.09C402.3 197.09 403.1 197.11 403.9 197.06C404.7 197.02 405.5 196.73 406.3 196.84C407.1 196.94 407.9 197.69 408.7 197.67C409.5 197.66 410.3 196.9 411.1 196.75C411.9 196.59 412.7 196.84 413.5 196.75C414.3 196.66 415.1 196.12 415.9 196.23C416.7 196.33 417.5 197.37 418.3 197.39C419.1 197.41 419.9 196.33 420.7 196.35C421.5 196.37 422.3 197.33 423.1 197.52C423.9 197.7 424.7 197.69 425.5 197.45C426.3 197.21 427.1 196.2 427.9 196.08C428.7 195.96 429.5 196.54 430.3 196.74C431.1 196.94 431.9 197.09 432.7 197.28C433.5 197.47 434.3 197.72 435.1 197.86C435.9 197.99 436.7 198.3 437.5 198.07C438.3 197.84 439.1 196.74 439.9 196.45C440.7 196.17 441.5 196.2 442.3 196.36C443.1 196.53 443.9 197.47 444.7 197.47C445.5 197.47 446.3 196.46 447.1 196.37C447.9 196.28 448.7 196.94 449.5 196.92C450.3 196.9 451.1 196.28 451.9 196.26C452.7 196.25 453.5 196.63 454.3 196.84C455.1 197.04 455.9 197.58 456.7 197.48C457.5 197.38 458.3 196.14 459.1 196.25C459.9 196.36 460.7 198.02 461.5 198.15C462.3 198.28 463.1 197.17 463.9 197.04C464.7 196.91 465.5 197.37 466.3 197.38C467.1 197.39 467.9 197.27 468.7 197.11C469.5 196.94 470.3 196.35 471.1 196.4C471.9 196.45 472.7 197.33 473.5 197.4C474.3 197.46 475.1 197 475.9 196.78C476.7 196.56 477.5 196.21 478.3 196.09C479.1 195.97 479.9 195.94 480.7 196.06C481.5 196.17 482.3 196.68 483.1 196.79C483.9 196.9 484.7 196.77 485.5 196.73C486.3 196.68 487.1 196.43 487.9 196.5C488.7 196.58 489.5 197.11 490.3 197.18C491.1 197.26 491.9 197.05 492.7 196.95C493.5 196.84 494.3 196.46 495.1 196.52C495.9 196.58 496.7 197.39 497.5 197.31C498.3 197.23 499.1 196.07 499.9 196.05C500.7 196.03 501.5 196.97 502.3 197.18C503.1 197.39 503.9 197.47 504.7 197.31C505.5 197.15 506.3 196.21 507.1 196.23C507.9 196.25 508.7 197.29 509.5 197.44C510.3 197.59 511.1 197.13 511.9 197.12C512.7 197.11 513.5 197.36 514.3 197.4C515.1 197.44 515.9 197.47 516.7 197.36C517.5 197.25 518.3 196.85 519.1 196.73C519.9 196.62 520.7 196.53 521.5 196.67C522.3 196.82 523.1 197.56 523.9 197.62C524.7 197.68 525.5 197.19 526.3 197.05C527.1 196.9 527.9 196.77 528.7 196.74C529.5 196.72 530.63 196.84 531.1 196.89C531.57 196.93 531.43 196.98 531.5 197" fill="none" stroke="#151515" stroke-width="0.9" stroke-linejoin="round" stroke-linecap="round"/>
<text x="351.4" y="116.2" font-size="6.3" font-weight="bold" class="h" text-anchor="middle" transform="rotate(0.06 351.4 116.2)">0</text>
<text x="364" y="116.2" font-size="6.3" font-weight="bold" class="h" text-anchor="middle" transform="rotate(0.06 364 116.2)">5</text>
<text x="379.6" y="116.2" font-size="6.3" font-weight="bold" class="h" text-anchor="middle" transform="rotate(0.06 379.6 116.2)">10</text>
<text x="438.9" y="116.2" font-size="6.3" font-weight="bold" class="h" text-anchor="middle" transform="rotate(0.06 438.9 116.2)">20</text>
<text x="475.7" y="116.2" font-size="6.3" font-weight="bold" class="h" text-anchor="middle" transform="rotate(0.06 475.7 116.2)">30</text>
<text x="523.6" y="192.9" font-size="6.6" font-weight="bold" class="h" text-anchor="middle" transform="rotate(0.06 523.6 192.9)">40</text>
<text x="520.8" y="205.7" font-size="6.5" font-weight="bold" class="h" text-anchor="middle" transform="rotate(0.06 520.8 205.7)" textLength="23" lengthAdjust="spacingAndGlyphs">Control</text>
</g>
<g id="panel-c">
<line x1="37.5" y1="287" x2="37.5" y2="432.7" stroke="#555" stroke-width="0.85"/>
<line x1="35.9" y1="432.3" x2="254.9" y2="432.3" stroke="#555" stroke-width="0.85"/>
<line x1="35.9" y1="432.3" x2="37.5" y2="432.3" stroke="#555" stroke-width="0.85"/>
<text x="34.9" y="434.8" font-size="8.1" font-weight="bold" class="h" text-anchor="end" transform="rotate(0.06 34.9 434.8)">0</text>
<line x1="35.9" y1="400.17" x2="37.5" y2="400.17" stroke="#555" stroke-width="0.85"/>
<text x="34.9" y="402.67" font-size="8.1" font-weight="bold" class="h" text-anchor="end" transform="rotate(0.06 34.9 402.67)">100</text>
<line x1="35.9" y1="368.04" x2="37.5" y2="368.04" stroke="#555" stroke-width="0.85"/>
<text x="34.9" y="370.54" font-size="8.1" font-weight="bold" class="h" text-anchor="end" transform="rotate(0.06 34.9 370.54)">200</text>
<line x1="35.9" y1="335.91" x2="37.5" y2="335.91" stroke="#555" stroke-width="0.85"/>
<text x="34.9" y="338.41" font-size="8.1" font-weight="bold" class="h" text-anchor="end" transform="rotate(0.06 34.9 338.41)">300</text>
<line x1="35.9" y1="303.78" x2="37.5" y2="303.78" stroke="#555" stroke-width="0.85"/>
<text x="34.9" y="306.28" font-size="8.1" font-weight="bold" class="h" text-anchor="end" transform="rotate(0.06 34.9 306.28)">400</text>
<text x="14.2" y="357" font-size="9.4" font-weight="bold" class="h" text-anchor="middle" transform="rotate(-90 14.2 357)" textLength="72.5" lengthAdjust="spacingAndGlyphs">Lag phase (min)</text>
<text x="27" y="292.1" font-size="16.4" font-weight="bold" class="h" text-anchor="middle" transform="rotate(0.06 27 292.1)">C</text>
<rect x="42" y="306.19" width="21.4" height="126.51" fill="#000"/>
<line x1="52.7" y1="432.3" x2="52.7" y2="433.8" stroke="#555" stroke-width="0.8"/>
<text x="52.7" y="300.6" font-size="10.3" class="l" text-anchor="middle" transform="rotate(0.06 52.7 300.6)">a</text>
<line x1="83.7" y1="420.59" x2="83.7" y2="418.81" stroke="#222" stroke-width="0.9"/>
<line x1="78.6" y1="418.81" x2="88.8" y2="418.81" stroke="#222" stroke-width="0.9"/>
<rect x="73" y="420.09" width="21.4" height="12.61" fill="#000"/>
<line x1="83.7" y1="432.3" x2="83.7" y2="433.8" stroke="#555" stroke-width="0.8"/>
<text x="83.7" y="413.2" font-size="10.3" class="l" text-anchor="middle" transform="rotate(0.06 83.7 413.2)">d</text>
<line x1="114.7" y1="416.09" x2="114.7" y2="414.79" stroke="#222" stroke-width="0.9"/>
<line x1="109.6" y1="414.79" x2="119.8" y2="414.79" stroke="#222" stroke-width="0.9"/>
<rect x="104" y="415.59" width="21.4" height="17.11" fill="#000"/>
<line x1="114.7" y1="432.3" x2="114.7" y2="433.8" stroke="#555" stroke-width="0.8"/>
<text x="114.7" y="408.2" font-size="10.3" class="l" text-anchor="middle" transform="rotate(0.06 114.7 408.2)">d</text>
<line x1="145.7" y1="410.95" x2="145.7" y2="408.68" stroke="#222" stroke-width="0.9"/>
<line x1="140.6" y1="408.68" x2="150.8" y2="408.68" stroke="#222" stroke-width="0.9"/>
<rect x="135" y="410.45" width="21.4" height="22.25" fill="#000"/>
<line x1="145.7" y1="432.3" x2="145.7" y2="433.8" stroke="#555" stroke-width="0.8"/>
<text x="145.7" y="402.7" font-size="10.3" class="l" text-anchor="middle" transform="rotate(0.06 145.7 402.7)">d</text>
<line x1="176.7" y1="390.39" x2="176.7" y2="387.48" stroke="#222" stroke-width="0.9"/>
<line x1="171.6" y1="387.48" x2="181.8" y2="387.48" stroke="#222" stroke-width="0.9"/>
<rect x="166" y="389.89" width="21.4" height="42.81" fill="#000"/>
<line x1="176.7" y1="432.3" x2="176.7" y2="433.8" stroke="#555" stroke-width="0.8"/>
<text x="176.7" y="381.5" font-size="10.3" class="l" text-anchor="middle" transform="rotate(0.06 176.7 381.5)">c</text>
<line x1="207.7" y1="319.38" x2="207.7" y2="310.21" stroke="#222" stroke-width="0.9"/>
<line x1="202.6" y1="310.21" x2="212.8" y2="310.21" stroke="#222" stroke-width="0.9"/>
<rect x="197" y="318.88" width="21.4" height="113.82" fill="#000"/>
<line x1="207.7" y1="432.3" x2="207.7" y2="433.8" stroke="#555" stroke-width="0.8"/>
<text x="207.7" y="303.9" font-size="10.3" class="l" text-anchor="middle" transform="rotate(0.06 207.7 303.9)">b</text>
<rect x="228" y="306.19" width="21.4" height="126.51" fill="#000"/>
<line x1="238.7" y1="432.3" x2="238.7" y2="433.8" stroke="#555" stroke-width="0.8"/>
<text x="238.7" y="300.6" font-size="10.3" class="l" text-anchor="middle" transform="rotate(0.06 238.7 300.6)">a</text>
<text x="56.6" y="357.7" font-size="9.4" font-weight="bold" text-anchor="middle" fill="#fff" transform="rotate(-90 56.6 357.7)" textLength="40.8" lengthAdjust="spacingAndGlyphs" stroke="#fff" stroke-width="0.2">&gt;390 min</text>
<text x="242.6" y="357.7" font-size="9.4" font-weight="bold" text-anchor="middle" fill="#fff" transform="rotate(-90 242.6 357.7)" textLength="40.8" lengthAdjust="spacingAndGlyphs" stroke="#fff" stroke-width="0.2">&gt;390 min</text>
<text x="36.4" y="444.1" font-size="8.1" font-weight="bold" class="h" text-anchor="end" transform="rotate(0.06 36.4 444.1)">BIX (<tspan font-weight="normal" stroke="none">µ</tspan>M)</text>
<text x="52.9" y="444.1" font-size="8.2" font-weight="bold" class="h" text-anchor="middle" transform="rotate(0.06 52.9 444.1)">0</text>
<text x="86.2" y="444.1" font-size="8.2" font-weight="bold" class="h" text-anchor="middle" transform="rotate(0.06 86.2 444.1)">0</text>
<text x="118.2" y="444.1" font-size="8.2" font-weight="bold" class="h" text-anchor="middle" transform="rotate(0.06 118.2 444.1)">0.5</text>
<text x="146.3" y="444.1" font-size="8.2" font-weight="bold" class="h" text-anchor="middle" transform="rotate(0.06 146.3 444.1)">1</text>
<text x="177.3" y="444.1" font-size="8.2" font-weight="bold" class="h" text-anchor="middle" transform="rotate(0.06 177.3 444.1)">2.5</text>
<text x="209.4" y="444.1" font-size="8.2" font-weight="bold" class="h" text-anchor="middle" transform="rotate(0.06 209.4 444.1)">5</text>
<text x="241.6" y="444.1" font-size="8.2" font-weight="bold" class="h" text-anchor="middle" transform="rotate(0.06 241.6 444.1)">7.5</text>
<line x1="83.8" y1="447.3" x2="244.8" y2="447.3" stroke="#333" stroke-width="0.9"/>
<text x="164.8" y="459.1" font-size="8.3" font-weight="bold" class="h" text-anchor="middle" transform="rotate(0.06 164.8 459.1)">CuSO<tspan font-size="5.64" dy="1.6">4</tspan><tspan dy="-1.6"> 10 </tspan><tspan font-weight="normal" stroke="none">µ</tspan>M</text>
</g>
<g id="panel-d">
<line x1="328.7" y1="287" x2="328.7" y2="432.7" stroke="#555" stroke-width="0.85"/>
<line x1="327.1" y1="432.3" x2="543.6" y2="432.3" stroke="#555" stroke-width="0.85"/>
<line x1="327.1" y1="432.3" x2="328.7" y2="432.3" stroke="#555" stroke-width="0.85"/>
<text x="326.6" y="434.8" font-size="8.1" font-weight="bold" class="h" text-anchor="end" transform="rotate(0.06 326.6 434.8)">0</text>
<line x1="327.1" y1="400.17" x2="328.7" y2="400.17" stroke="#555" stroke-width="0.85"/>
<text x="326.6" y="402.67" font-size="8.1" font-weight="bold" class="h" text-anchor="end" transform="rotate(0.06 326.6 402.67)">100</text>
<line x1="327.1" y1="368.04" x2="328.7" y2="368.04" stroke="#555" stroke-width="0.85"/>
<text x="326.6" y="370.54" font-size="8.1" font-weight="bold" class="h" text-anchor="end" transform="rotate(0.06 326.6 370.54)">200</text>
<line x1="327.1" y1="335.91" x2="328.7" y2="335.91" stroke="#555" stroke-width="0.85"/>
<text x="326.6" y="338.41" font-size="8.1" font-weight="bold" class="h" text-anchor="end" transform="rotate(0.06 326.6 338.41)">300</text>
<line x1="327.1" y1="303.78" x2="328.7" y2="303.78" stroke="#555" stroke-width="0.85"/>
<text x="326.6" y="306.28" font-size="8.1" font-weight="bold" class="h" text-anchor="end" transform="rotate(0.06 326.6 306.28)">400</text>
<text x="305.2" y="357" font-size="9.4" font-weight="bold" class="h" text-anchor="middle" transform="rotate(-90 305.2 357)" textLength="72.5" lengthAdjust="spacingAndGlyphs">Lag phase (min)</text>
<text x="319" y="292.1" font-size="16.4" font-weight="bold" class="h" text-anchor="middle" transform="rotate(0.06 319 292.1)">D</text>
<rect x="333.8" y="306.19" width="21.4" height="126.51" fill="#000"/>
<line x1="344.5" y1="432.3" x2="344.5" y2="433.8" stroke="#555" stroke-width="0.8"/>
<text x="344.5" y="300.6" font-size="10.3" class="l" text-anchor="middle" transform="rotate(0.06 344.5 300.6)">a</text>
<line x1="375.5" y1="420.59" x2="375.5" y2="417.36" stroke="#222" stroke-width="0.9"/>
<line x1="370.4" y1="417.36" x2="380.6" y2="417.36" stroke="#222" stroke-width="0.9"/>
<rect x="364.8" y="420.09" width="21.4" height="12.61" fill="#000"/>
<line x1="375.5" y1="432.3" x2="375.5" y2="433.8" stroke="#555" stroke-width="0.8"/>
<text x="375.5" y="410.9" font-size="10.3" class="l" text-anchor="middle" transform="rotate(0.06 375.5 410.9)">e</text>
<line x1="406.5" y1="413.84" x2="406.5" y2="409.33" stroke="#222" stroke-width="0.9"/>
<line x1="401.4" y1="409.33" x2="411.6" y2="409.33" stroke="#222" stroke-width="0.9"/>
<rect x="395.8" y="413.34" width="21.4" height="19.36" fill="#000"/>
<line x1="406.5" y1="432.3" x2="406.5" y2="433.8" stroke="#555" stroke-width="0.8"/>
<text x="406.5" y="403.4" font-size="10.3" class="l" text-anchor="middle" transform="rotate(0.06 406.5 403.4)">de</text>
<line x1="437.6" y1="408.22" x2="437.6" y2="401.29" stroke="#222" stroke-width="0.9"/>
<line x1="432.5" y1="401.29" x2="442.7" y2="401.29" stroke="#222" stroke-width="0.9"/>
<rect x="426.9" y="407.72" width="21.4" height="24.98" fill="#000"/>
<line x1="437.6" y1="432.3" x2="437.6" y2="433.8" stroke="#555" stroke-width="0.8"/>
<text x="437.6" y="395.5" font-size="10.3" class="l" text-anchor="middle" transform="rotate(0.06 437.6 395.5)">d</text>
<line x1="468.6" y1="369.83" x2="468.6" y2="364.83" stroke="#222" stroke-width="0.9"/>
<line x1="463.5" y1="364.83" x2="473.7" y2="364.83" stroke="#222" stroke-width="0.9"/>
<rect x="457.9" y="369.33" width="21.4" height="63.37" fill="#000"/>
<line x1="468.6" y1="432.3" x2="468.6" y2="433.8" stroke="#555" stroke-width="0.8"/>
<text x="468.6" y="359.3" font-size="10.3" class="l" text-anchor="middle" transform="rotate(0.06 468.6 359.3)">c</text>
<line x1="499.6" y1="349.9" x2="499.6" y2="330.77" stroke="#222" stroke-width="0.9"/>
<line x1="494.5" y1="330.77" x2="504.7" y2="330.77" stroke="#222" stroke-width="0.9"/>
<rect x="488.9" y="349.4" width="21.4" height="83.3" fill="#000"/>
<line x1="499.6" y1="432.3" x2="499.6" y2="433.8" stroke="#555" stroke-width="0.8"/>
<text x="499.6" y="324.7" font-size="10.3" class="l" text-anchor="middle" transform="rotate(0.06 499.6 324.7)">b</text>
<rect x="519.9" y="306.19" width="21.4" height="126.51" fill="#000"/>
<line x1="530.6" y1="432.3" x2="530.6" y2="433.8" stroke="#555" stroke-width="0.8"/>
<text x="530.6" y="300.6" font-size="10.3" class="l" text-anchor="middle" transform="rotate(0.06 530.6 300.6)">a</text>
<text x="348.4" y="357.7" font-size="9.4" font-weight="bold" text-anchor="middle" fill="#fff" transform="rotate(-90 348.4 357.7)" textLength="40.8" lengthAdjust="spacingAndGlyphs" stroke="#fff" stroke-width="0.2">&gt;390 min</text>
<text x="534.5" y="357.7" font-size="9.4" font-weight="bold" text-anchor="middle" fill="#fff" transform="rotate(-90 534.5 357.7)" textLength="40.8" lengthAdjust="spacingAndGlyphs" stroke="#fff" stroke-width="0.2">&gt;390 min</text>
<text x="329.4" y="444.1" font-size="8.1" font-weight="bold" class="h" text-anchor="end" transform="rotate(0.06 329.4 444.1)">LYC (<tspan font-weight="normal" stroke="none">µ</tspan>M)</text>
<text x="346.3" y="444.1" font-size="8.2" font-weight="bold" class="h" text-anchor="middle" transform="rotate(0.06 346.3 444.1)">0</text>
<text x="377" y="444.1" font-size="8.2" font-weight="bold" class="h" text-anchor="middle" transform="rotate(0.06 377 444.1)">0</text>
<text x="408.4" y="444.1" font-size="8.2" font-weight="bold" class="h" text-anchor="middle" transform="rotate(0.06 408.4 444.1)">5</text>
<text x="439.6" y="444.1" font-size="8.2" font-weight="bold" class="h" text-anchor="middle" transform="rotate(0.06 439.6 444.1)">10</text>
<text x="470.8" y="444.1" font-size="8.2" font-weight="bold" class="h" text-anchor="middle" transform="rotate(0.06 470.8 444.1)">20</text>
<text x="502.2" y="444.1" font-size="8.2" font-weight="bold" class="h" text-anchor="middle" transform="rotate(0.06 502.2 444.1)">30</text>
<text x="533" y="444.1" font-size="8.2" font-weight="bold" class="h" text-anchor="middle" transform="rotate(0.06 533 444.1)">40</text>
<line x1="376" y1="447.3" x2="537.4" y2="447.3" stroke="#333" stroke-width="0.9"/>
<text x="456.3" y="459.1" font-size="8.3" font-weight="bold" class="h" text-anchor="middle" transform="rotate(0.06 456.3 459.1)">CuSO<tspan font-size="5.64" dy="1.6">4</tspan><tspan dy="-1.6"> 10 </tspan><tspan font-weight="normal" stroke="none">µ</tspan>M</text>
</g>
<g id="panel-e">
<line x1="38.25" y1="485.4" x2="38.25" y2="631.8" stroke="#555" stroke-width="0.85"/>
<line x1="36.65" y1="631.4" x2="255.5" y2="631.4" stroke="#555" stroke-width="0.85"/>
<line x1="36.65" y1="631.4" x2="38.25" y2="631.4" stroke="#555" stroke-width="0.85"/>
<text x="35.8" y="634" font-size="7.9" font-weight="bold" class="h" text-anchor="end" transform="rotate(0.06 35.8 634)">0.000</text>
<line x1="36.65" y1="582.85" x2="38.25" y2="582.85" stroke="#555" stroke-width="0.85"/>
<text x="35.8" y="585.45" font-size="7.9" font-weight="bold" class="h" text-anchor="end" transform="rotate(0.06 35.8 585.45)">0.005</text>
<line x1="36.65" y1="534.3" x2="38.25" y2="534.3" stroke="#555" stroke-width="0.85"/>
<text x="35.8" y="536.9" font-size="7.9" font-weight="bold" class="h" text-anchor="end" transform="rotate(0.06 35.8 536.9)">0.010</text>
<line x1="36.65" y1="485.75" x2="38.25" y2="485.75" stroke="#555" stroke-width="0.85"/>
<text x="35.8" y="488.35" font-size="7.9" font-weight="bold" class="h" text-anchor="end" transform="rotate(0.06 35.8 488.35)">0.015</text>
<text x="12.6" y="555.9" font-size="9.7" font-weight="bold" class="h" text-anchor="middle" transform="rotate(-90 12.6 555.9)" textLength="91" lengthAdjust="spacingAndGlyphs">Oxidation rate (min)</text>
<text x="25" y="472.3" font-size="16.9" font-weight="bold" class="h" text-anchor="middle" transform="rotate(0.06 25 472.3)" textLength="9.9" lengthAdjust="spacingAndGlyphs">E</text>
<line x1="60.3" y1="526.5" x2="60.3" y2="520.4" stroke="#222" stroke-width="0.9"/>
<line x1="53.55" y1="520.4" x2="67.05" y2="520.4" stroke="#222" stroke-width="0.9"/>
<rect x="45.8" y="526" width="29.2" height="105.8" fill="#000"/>
<line x1="60.4" y1="631.4" x2="60.4" y2="632.9" stroke="#555" stroke-width="0.8"/>
<text x="60.3" y="514.4" font-size="10.3" class="l" text-anchor="middle" transform="rotate(0.06 60.3 514.4)">a</text>
<line x1="103.55" y1="546.8" x2="103.55" y2="543.5" stroke="#222" stroke-width="0.9"/>
<line x1="96.8" y1="543.5" x2="110.3" y2="543.5" stroke="#222" stroke-width="0.9"/>
<rect x="89.05" y="546.3" width="29.2" height="85.5" fill="#000"/>
<line x1="103.65" y1="631.4" x2="103.65" y2="632.9" stroke="#555" stroke-width="0.8"/>
<text x="103.55" y="538" font-size="10.3" class="l" text-anchor="middle" transform="rotate(0.06 103.55 538)">b</text>
<line x1="146.8" y1="555.2" x2="146.8" y2="552.2" stroke="#222" stroke-width="0.9"/>
<line x1="140.05" y1="552.2" x2="153.55" y2="552.2" stroke="#222" stroke-width="0.9"/>
<rect x="132.3" y="554.7" width="29.2" height="77.1" fill="#000"/>
<line x1="146.9" y1="631.4" x2="146.9" y2="632.9" stroke="#555" stroke-width="0.8"/>
<text x="146.8" y="546.5" font-size="10.3" class="l" text-anchor="middle" transform="rotate(0.06 146.8 546.5)">bc</text>
<line x1="190.05" y1="557" x2="190.05" y2="555.1" stroke="#222" stroke-width="0.9"/>
<line x1="183.3" y1="555.1" x2="196.8" y2="555.1" stroke="#222" stroke-width="0.9"/>
<rect x="175.55" y="556.5" width="29.2" height="75.3" fill="#000"/>
<line x1="190.15" y1="631.4" x2="190.15" y2="632.9" stroke="#555" stroke-width="0.8"/>
<text x="190.05" y="549.4" font-size="10.3" class="l" text-anchor="middle" transform="rotate(0.06 190.05 549.4)">bc</text>
<line x1="233.8" y1="569.7" x2="233.8" y2="563.6" stroke="#222" stroke-width="0.9"/>
<line x1="227.05" y1="563.6" x2="240.55" y2="563.6" stroke="#222" stroke-width="0.9"/>
<rect x="219.3" y="569.2" width="29.2" height="62.6" fill="#000"/>
<line x1="233.9" y1="631.4" x2="233.9" y2="632.9" stroke="#555" stroke-width="0.8"/>
<text x="233.8" y="558.5" font-size="10.3" class="l" text-anchor="middle" transform="rotate(0.06 233.8 558.5)">c</text>
<text x="36.4" y="643.3" font-size="8.1" font-weight="bold" class="h" text-anchor="end" transform="rotate(0.06 36.4 643.3)">BIX (<tspan font-weight="normal" stroke="none">µ</tspan>M)</text>
<text x="62.6" y="643.4" font-size="8.2" font-weight="bold" class="h" text-anchor="middle" transform="rotate(0.06 62.6 643.4)">0</text>
<text x="107.7" y="643.4" font-size="8.2" font-weight="bold" class="h" text-anchor="middle" transform="rotate(0.06 107.7 643.4)">0.5</text>
<text x="150" y="643.4" font-size="8.2" font-weight="bold" class="h" text-anchor="middle" transform="rotate(0.06 150 643.4)">1</text>
<text x="195" y="643.4" font-size="8.2" font-weight="bold" class="h" text-anchor="middle" transform="rotate(0.06 195 643.4)">2.5</text>
<text x="239" y="643.4" font-size="8.2" font-weight="bold" class="h" text-anchor="middle" transform="rotate(0.06 239 643.4)">5</text>
<line x1="59.5" y1="646.3" x2="246.8" y2="646.3" stroke="#333" stroke-width="0.9"/>
<text x="156" y="657.2" font-size="8.3" font-weight="bold" class="h" text-anchor="middle" transform="rotate(0.06 156 657.2)">CuSO<tspan font-size="5.64" dy="1.6">4</tspan><tspan dy="-1.6"> 10 </tspan><tspan font-weight="normal" stroke="none">µ</tspan>M</text>
</g>
<g id="panel-f">
<line x1="330.5" y1="485.4" x2="330.5" y2="631.8" stroke="#555" stroke-width="0.85"/>
<line x1="328.9" y1="631.4" x2="543.7" y2="631.4" stroke="#555" stroke-width="0.85"/>
<line x1="328.9" y1="631.4" x2="330.5" y2="631.4" stroke="#555" stroke-width="0.85"/>
<text x="328.3" y="634" font-size="7.9" font-weight="bold" class="h" text-anchor="end" transform="rotate(0.06 328.3 634)">0.000</text>
<line x1="328.9" y1="582.85" x2="330.5" y2="582.85" stroke="#555" stroke-width="0.85"/>
<text x="328.3" y="585.45" font-size="7.9" font-weight="bold" class="h" text-anchor="end" transform="rotate(0.06 328.3 585.45)">0.005</text>
<line x1="328.9" y1="534.3" x2="330.5" y2="534.3" stroke="#555" stroke-width="0.85"/>
<text x="328.3" y="536.9" font-size="7.9" font-weight="bold" class="h" text-anchor="end" transform="rotate(0.06 328.3 536.9)">0.010</text>
<line x1="328.9" y1="485.75" x2="330.5" y2="485.75" stroke="#555" stroke-width="0.85"/>
<text x="328.3" y="488.35" font-size="7.9" font-weight="bold" class="h" text-anchor="end" transform="rotate(0.06 328.3 488.35)">0.015</text>
<text x="304.5" y="555.9" font-size="9.7" font-weight="bold" class="h" text-anchor="middle" transform="rotate(-90 304.5 555.9)" textLength="91" lengthAdjust="spacingAndGlyphs">Oxidation rate (min)</text>
<text x="318.2" y="473.2" font-size="16.9" font-weight="bold" class="h" text-anchor="middle" transform="rotate(0.06 318.2 473.2)" textLength="8.6" lengthAdjust="spacingAndGlyphs">F</text>
<line x1="352.8" y1="526.5" x2="352.8" y2="520.4" stroke="#222" stroke-width="0.9"/>
<line x1="346.05" y1="520.4" x2="359.55" y2="520.4" stroke="#222" stroke-width="0.9"/>
<rect x="338.3" y="526" width="29.2" height="105.8" fill="#000"/>
<line x1="352.9" y1="631.4" x2="352.9" y2="632.9" stroke="#555" stroke-width="0.8"/>
<text x="352.8" y="514.2" font-size="10.3" class="l" text-anchor="middle" transform="rotate(0.06 352.8 514.2)">a</text>
<line x1="396.1" y1="539.2" x2="396.1" y2="534.4" stroke="#222" stroke-width="0.9"/>
<line x1="389.35" y1="534.4" x2="402.85" y2="534.4" stroke="#222" stroke-width="0.9"/>
<rect x="381.6" y="538.7" width="29.2" height="93.1" fill="#000"/>
<line x1="396.2" y1="631.4" x2="396.2" y2="632.9" stroke="#555" stroke-width="0.8"/>
<text x="396.1" y="528.7" font-size="10.3" class="l" text-anchor="middle" transform="rotate(0.06 396.1 528.7)">ab</text>
<line x1="439.35" y1="544.3" x2="439.35" y2="541.2" stroke="#222" stroke-width="0.9"/>
<line x1="432.6" y1="541.2" x2="446.1" y2="541.2" stroke="#222" stroke-width="0.9"/>
<rect x="424.85" y="543.8" width="29.2" height="88" fill="#000"/>
<line x1="439.45" y1="631.4" x2="439.45" y2="632.9" stroke="#555" stroke-width="0.8"/>
<text x="439.35" y="535.7" font-size="10.3" class="l" text-anchor="middle" transform="rotate(0.06 439.35 535.7)">b</text>
<line x1="482.6" y1="572.3" x2="482.6" y2="567.7" stroke="#222" stroke-width="0.9"/>
<line x1="475.85" y1="567.7" x2="489.35" y2="567.7" stroke="#222" stroke-width="0.9"/>
<rect x="468.1" y="571.8" width="29.2" height="60" fill="#000"/>
<line x1="482.7" y1="631.4" x2="482.7" y2="632.9" stroke="#555" stroke-width="0.8"/>
<text x="482.6" y="562.1" font-size="10.3" class="l" text-anchor="middle" transform="rotate(0.06 482.6 562.1)">c</text>
<line x1="526.1" y1="576.3" x2="526.1" y2="570" stroke="#222" stroke-width="0.9"/>
<line x1="519.35" y1="570" x2="532.85" y2="570" stroke="#222" stroke-width="0.9"/>
<rect x="511.6" y="575.8" width="29.2" height="56" fill="#000"/>
<line x1="526.2" y1="631.4" x2="526.2" y2="632.9" stroke="#555" stroke-width="0.8"/>
<text x="526.1" y="564.2" font-size="10.3" class="l" text-anchor="middle" transform="rotate(0.06 526.1 564.2)">c</text>
<text x="329.2" y="643.3" font-size="8.1" font-weight="bold" class="h" text-anchor="end" transform="rotate(0.06 329.2 643.3)">LYC (<tspan font-weight="normal" stroke="none">µ</tspan>M)</text>
<text x="353.7" y="643.4" font-size="8.2" font-weight="bold" class="h" text-anchor="middle" transform="rotate(0.06 353.7 643.4)">0</text>
<text x="396.3" y="643.4" font-size="8.2" font-weight="bold" class="h" text-anchor="middle" transform="rotate(0.06 396.3 643.4)">5</text>
<text x="438.9" y="643.4" font-size="8.2" font-weight="bold" class="h" text-anchor="middle" transform="rotate(0.06 438.9 643.4)">10</text>
<text x="483.8" y="643.4" font-size="8.2" font-weight="bold" class="h" text-anchor="middle" transform="rotate(0.06 483.8 643.4)">20</text>
<text x="529" y="643.4" font-size="8.2" font-weight="bold" class="h" text-anchor="middle" transform="rotate(0.06 529 643.4)">30</text>
<line x1="351.5" y1="646.3" x2="539.2" y2="646.3" stroke="#333" stroke-width="0.9"/>
<text x="448.2" y="657.2" font-size="8.3" font-weight="bold" class="h" text-anchor="middle" transform="rotate(0.06 448.2 657.2)">CuSO<tspan font-size="5.64" dy="1.6">4</tspan><tspan dy="-1.6"> 10 </tspan><tspan font-weight="normal" stroke="none">µ</tspan>M</text>
</g>
</svg>
</body></html>
